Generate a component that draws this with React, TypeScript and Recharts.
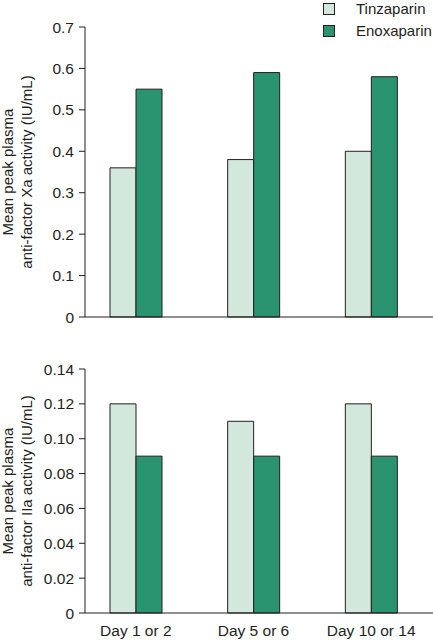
import { BarChart, Bar, XAxis, YAxis } from "recharts"

const days = ["Day 1 or 2", "Day 5 or 6", "Day 10 or 14"]
const seriesNames = ["Tinzaparin", "Enoxaparin"]
const seriesColors = ["#d2e8dc", "#2a936f"]

const tinzaparinXa = [0.36, 0.38, 0.4]
const enoxaparinXa = [0.55, 0.59, 0.58]
const xaTicks = [0, 0.1, 0.2, 0.3, 0.4, 0.5, 0.6, 0.7]

const tinzaparinIIa = [0.12, 0.11, 0.12]
const enoxaparinIIa = [0.09, 0.09, 0.09]
const iiaTicks = [0, 0.02, 0.04, 0.06, 0.08, 0.1, 0.12, 0.14]

const xaLabel = ["Mean peak plasma", "anti-factor Xa activity (IU/mL)"]
const iiaLabel = ["Mean peak plasma", "anti-factor IIa activity (IU/mL)"]

const FONT = "'Liberation Sans', Arial, Helvetica, sans-serif"
const INK = "#231f20"

const xaData = days.map((day, i) => ({ day, tinza: tinzaparinXa[i], enoxa: enoxaparinXa[i] }))
const iiaData = days.map((day, i) => ({ day, tinza: tinzaparinIIa[i], enoxa: enoxaparinIIa[i] }))

// two-line rotated axis title, centred on the plot height
function AxisTitle({ viewBox, lines }: any) {
  const cy = viewBox.y + viewBox.height / 2
  const cx = 12.5
  return (
    <text
      x={cx}
      y={cy}
      transform={`rotate(-90, ${cx}, ${cy})`}
      textAnchor="middle"
      fontSize={15}
      fontFamily={FONT}
      fill={INK}
    >
      {lines.map((line: string, i: number) => (
        <tspan key={i} x={cx} dy={i === 0 ? 0 : 19.5}>
          {line}
        </tspan>
      ))}
    </text>
  )
}

function LegendBox() {
  return (
    <div style={{ position: "absolute", left: 323, top: -2, fontFamily: FONT, fontSize: 15, color: INK }}>
      {seriesNames.map((name, i) => (
        <div key={name} style={{ display: "flex", alignItems: "center", height: 22, lineHeight: "22px", whiteSpace: "nowrap" }}>
          <span
            style={{
              width: 10,
              height: 10,
              background: seriesColors[i],
              border: `1px solid ${INK}`,
              marginRight: 21,
            }}
          />
          <span>{name}</span>
        </div>
      ))}
    </div>
  )
}

const tickStyle = { fontSize: 15.5, fontFamily: FONT, fill: INK }
const fmt = (digits: number) => (v: number) => (v === 0 ? "0" : v.toFixed(digits))

export default function App() {
  return (
    <div style={{ position: "absolute", left: 0, top: 0, width: 433, height: 640, background: "#fff", overflow: "hidden" }}>
      <div style={{ position: "absolute", left: 0, top: 0 }}>
        <BarChart
          width={433}
          height={330}
          data={xaData}
          margin={{ top: 27, right: 0, left: 0, bottom: 12 }}
          barGap={0}
          barSize={26}
        >
          <XAxis
            dataKey="day"
            height={1}
            tick={false}
            tickLine={false}
            padding={{ left: -8, right: 3 }}
            stroke={INK}
          />
          <YAxis
            width={85}
            domain={[0, 0.7]}
            ticks={xaTicks}
            tickFormatter={fmt(1)}
            tick={tickStyle}
            tickSize={6}
            tickMargin={5}
            stroke={INK}
            label={<AxisTitle lines={xaLabel} />}
          />
          <Bar dataKey="tinza" name={seriesNames[0]} fill={seriesColors[0]} stroke={INK} strokeWidth={1} isAnimationActive={false} />
          <Bar dataKey="enoxa" name={seriesNames[1]} fill={seriesColors[1]} stroke={INK} strokeWidth={1} isAnimationActive={false} />
        </BarChart>
      </div>
      <LegendBox />
      <div style={{ position: "absolute", left: 0, top: 340 }}>
        <BarChart
          width={433}
          height={300}
          data={iiaData}
          margin={{ top: 29, right: 0, left: 0, bottom: 0 }}
          barGap={0}
          barSize={26}
        >
          <XAxis
            dataKey="day"
            height={27}
            tick={tickStyle}
            tickLine={false}
            tickSize={6}
            tickMargin={6}
            padding={{ left: -8, right: 3 }}
            stroke={INK}
            interval={0}
          />
          <YAxis
            width={85}
            domain={[0, 0.14]}
            ticks={iiaTicks}
            tickFormatter={fmt(2)}
            tick={tickStyle}
            tickSize={6}
            tickMargin={5}
            stroke={INK}
            label={<AxisTitle lines={iiaLabel} />}
          />
          <Bar dataKey="tinza" name={seriesNames[0]} fill={seriesColors[0]} stroke={INK} strokeWidth={1} isAnimationActive={false} />
          <Bar dataKey="enoxa" name={seriesNames[1]} fill={seriesColors[1]} stroke={INK} strokeWidth={1} isAnimationActive={false} />
        </BarChart>
      </div>
    </div>
  )
}
